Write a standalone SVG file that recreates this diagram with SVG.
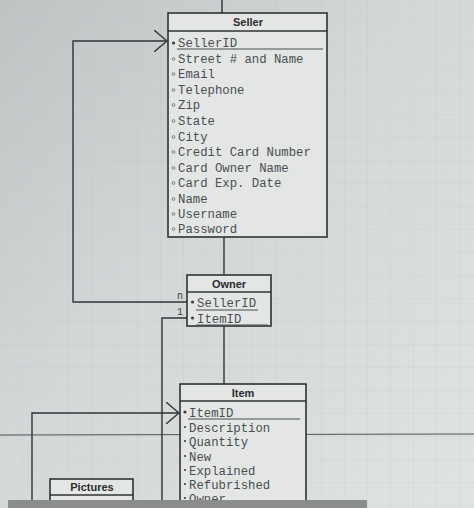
<svg xmlns="http://www.w3.org/2000/svg" width="474" height="508" viewBox="0 0 474 508">
<defs>
<linearGradient id="bg" x1="0" y1="0" x2="1" y2="1">
<stop offset="0" stop-color="#bfc3c4"/>
<stop offset="0.45" stop-color="#d3d8d8"/>
<stop offset="1" stop-color="#dfe4e1"/>
</linearGradient>
<pattern id="grid" width="23" height="23" patternUnits="userSpaceOnUse">
<path d="M23 0V23M0 23H23" fill="none" stroke="#b9bfc0" stroke-width="0.6" opacity="0.6"/>
</pattern>
<marker id="open" viewBox="0 0 14 22" refX="13" refY="11" markerWidth="14" markerHeight="22" markerUnits="userSpaceOnUse" orient="auto">
<path d="M0 0L13 11L0 22" fill="none" stroke="#33373a" stroke-width="1.4"/>
</marker>
</defs>
<style>
.box{fill:#e3e6e4;stroke:#2f3336;stroke-width:1.6}
.hd{fill:none;stroke:#2f3336;stroke-width:1.6}
.title{font-family:"Liberation Sans",Arial,sans-serif;font-weight:bold;font-size:11px;fill:#2a2d30;text-anchor:middle}
.attr{font-family:"Liberation Mono","Courier New",monospace;font-size:12.3px;fill:#4a4e50}
.key{fill:#3a3e40}
.opt{fill:none;stroke:#666a6c;stroke-width:0.8}
.ul{stroke:#4a4e50;stroke-width:1}
.conn{fill:none;stroke:#2f3336;stroke-width:1.4}
.lbl{font-family:"Liberation Mono","Courier New",monospace;font-size:10px;fill:#3a3e40}
</style>
<rect width="474" height="508" fill="url(#bg)"/>
<rect width="474" height="508" fill="url(#grid)"/>
<line x1="0" y1="435" x2="474" y2="434" stroke="#4e5456" stroke-width="1.2"/>

<g id="connectors">
<line class="conn" x1="222" y1="0" x2="222" y2="13"/>
<path class="conn" d="M187 302H73V41H167" marker-end="url(#open)"/>
<line class="conn" x1="224" y1="237" x2="224" y2="275"/>
<path class="conn" d="M187 318H162V500"/>
<line class="conn" x1="224" y1="326" x2="224" y2="384"/>
<path class="conn" d="M50 502H32V413H179" marker-end="url(#open)"/>
<text class="lbl" x="177" y="299">n</text>
<text class="lbl" x="177" y="315">1</text>
<text class="lbl" x="41" y="506">n</text>
</g>

<g id="seller">
<rect class="box" x="168" y="13" width="159" height="224"/>
<line class="hd" x1="168" y1="31" x2="327" y2="31"/>
<text class="title" x="248" y="26">Seller</text>
<circle class="key" cx="173.5" cy="43" r="1.6"/>
<text class="attr" x="178" y="47">SellerID</text>
<line class="ul" x1="177" y1="49" x2="323" y2="49"/>
<g class="opt">
<circle cx="173.5" cy="59" r="1.4"/><circle cx="173.5" cy="74" r="1.4"/><circle cx="173.5" cy="90" r="1.4"/>
<circle cx="173.5" cy="105" r="1.4"/><circle cx="173.5" cy="121" r="1.4"/><circle cx="173.5" cy="137" r="1.4"/>
<circle cx="173.5" cy="152" r="1.4"/><circle cx="173.5" cy="168" r="1.4"/><circle cx="173.5" cy="183" r="1.4"/>
<circle cx="173.5" cy="199" r="1.4"/><circle cx="173.5" cy="214" r="1.4"/><circle cx="173.5" cy="229" r="1.4"/>
</g>
<text class="attr" x="178" y="63">Street # and Name</text>
<text class="attr" x="178" y="78">Email</text>
<text class="attr" x="178" y="94">Telephone</text>
<text class="attr" x="178" y="109">Zip</text>
<text class="attr" x="178" y="125">State</text>
<text class="attr" x="178" y="141">City</text>
<text class="attr" x="178" y="156">Credit Card Number</text>
<text class="attr" x="178" y="172">Card Owner Name</text>
<text class="attr" x="178" y="187">Card Exp. Date</text>
<text class="attr" x="178" y="203">Name</text>
<text class="attr" x="178" y="218">Username</text>
<text class="attr" x="178" y="233">Password</text>
</g>

<g id="owner">
<rect class="box" x="187" y="275" width="84" height="51"/>
<line class="hd" x1="187" y1="292" x2="271" y2="292"/>
<text class="title" x="229" y="288">Owner</text>
<circle class="key" cx="192.5" cy="302" r="1.6"/>
<circle class="key" cx="192.5" cy="318" r="1.6"/>
<text class="attr" x="197" y="307">SellerID</text>
<text class="attr" x="197" y="323">ItemID</text>
<line class="ul" x1="196" y1="310" x2="258" y2="310"/>
<line class="ul" x1="196" y1="325" x2="268" y2="325"/>
</g>

<g id="item">
<rect class="box" x="180" y="384" width="126" height="130"/>
<line class="hd" x1="180" y1="401" x2="306" y2="401"/>
<text class="title" x="243" y="397">Item</text>
<circle class="key" cx="185" cy="412" r="1.6"/>
<text class="attr" x="189" y="417">ItemID</text>
<line class="ul" x1="188" y1="419" x2="300" y2="419"/>
<g class="key">
<circle cx="185" cy="427" r="1.1"/><circle cx="185" cy="441" r="1.1"/><circle cx="185" cy="456" r="1.1"/>
<circle cx="185" cy="470" r="1.1"/><circle cx="185" cy="484" r="1.1"/><circle cx="185" cy="498" r="1.1"/>
</g>
<text class="attr" x="189" y="432">Description</text>
<text class="attr" x="189" y="446">Quantity</text>
<text class="attr" x="189" y="461">New</text>
<text class="attr" x="189" y="475">Explained</text>
<text class="attr" x="189" y="489">Refubrished</text>
<text class="attr" x="189" y="503">Owner</text>
</g>

<g id="pictures">
<rect class="box" x="50" y="479" width="83" height="40"/>
<line class="hd" x1="50" y1="495" x2="133" y2="495"/>
<text class="title" x="92" y="491">Pictures</text>
</g>

<rect x="8" y="500" width="359" height="8" fill="#8b8d8d"/>
</svg>
